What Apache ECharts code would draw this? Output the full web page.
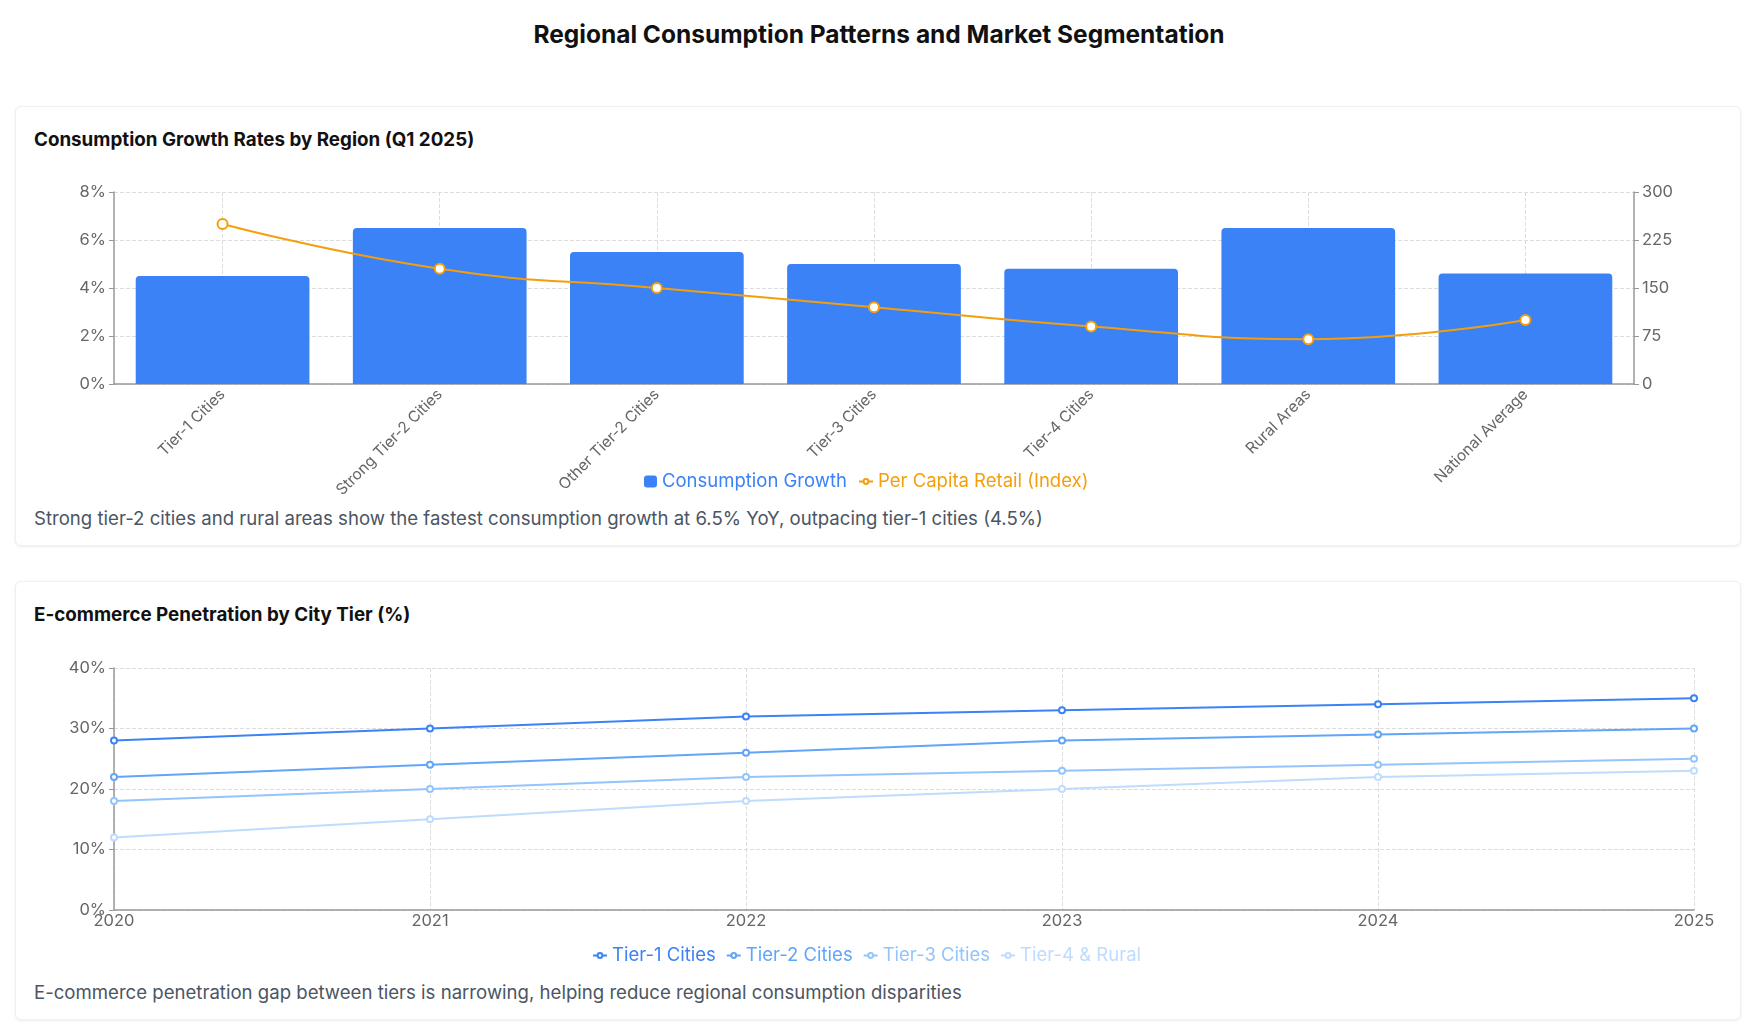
<!DOCTYPE html>
<html>
<head>
<meta charset="utf-8">
<title>Regional Consumption Patterns and Market Segmentation</title>
<script src="https://cdn.jsdelivr.net/npm/echarts@6/dist/echarts.min.js"></script>
<style>
  body {
    margin: 0;
    background: #fff;
    font-family: Inter, "Noto Sans", sans-serif;
  }
  .page-title {
    position: absolute;
    left: 0;
    top: 20px;
    width: 1758px;
    text-align: center;
    font-size: 24.5px;
    font-weight: bold;
    color: #111;
    line-height: 28px;
  }
  .card {
    position: absolute;
    left: 15px;
    width: 1724px;
    background: #fff;
    border: 1px solid #f0f0f0;
    border-radius: 6px;
    box-shadow: 0 1px 3px rgba(0, 0, 0, 0.08);
  }
  .card-title {
    position: absolute;
    left: 18px;
    top: 22px;
    font-size: 18.8px;
    font-weight: bold;
    color: #111;
    line-height: 22px;
  }
  .chart {
    position: absolute;
    left: 0;
    top: 49px;
    width: 1724px;
    height: 340px;
  }
  .desc {
    position: absolute;
    left: 18px;
    top: 399px;
    font-size: 18.6px;
    color: #4b5563;
    line-height: 24px;
  }
</style>
</head>
<body>
<div class="page-title">Regional Consumption Patterns and Market Segmentation</div>

<div class="card" style="top: 106px; height: 438px;">
  <div class="card-title">Consumption Growth Rates by Region (Q1 2025)</div>
  <div id="growthChart" class="chart"></div>
  <div class="desc">Strong tier-2 cities and rural areas show the fastest consumption growth at 6.5% YoY, outpacing tier-1 cities (4.5%)</div>
</div>

<div class="card" style="top: 581px; height: 437px;">
  <div class="card-title">E-commerce Penetration by City Tier (%)</div>
  <div id="ecomChart" class="chart"></div>
  <div class="desc" style="top: 398px;">E-commerce penetration gap between tiers is narrowing, helping reduce regional consumption disparities</div>
</div>

<script>
// chart 1 data
const regions = ['Tier-1 Cities', 'Strong Tier-2 Cities', 'Other Tier-2 Cities', 'Tier-3 Cities', 'Tier-4 Cities', 'Rural Areas', 'National Average']
const growthRate = [4.5, 6.5, 5.5, 5.0, 4.8, 6.5, 4.6]
const retailIndex = [250, 180, 150, 120, 90, 70, 100]

// chart 2 data
const years = ['2020', '2021', '2022', '2023', '2024', '2025']
const tier1 = [28, 30, 32, 33, 34, 35]
const tier2 = [22, 24, 26, 28, 29, 30]
const tier3 = [18, 20, 22, 23, 24, 25]
const tier4Rural = [12, 15, 18, 20, 22, 23]

const axisColor = '#999'
const labelColor = '#666'
const gridLine = { show: true, lineStyle: { type: 'dashed', color: '#ddd' } }

const growthChart = echarts.init(document.getElementById('growthChart'))
growthChart.setOption({
  textStyle: { fontFamily: 'Inter, "Noto Sans", sans-serif' },
  grid: { left: 98, right: 106, top: 36, bottom: 112, outerBoundsMode: 'none' },
  // two legends so the bar and line icons can have their own sizes
  legend: [
    {
      top: 311,
      left: 623,
      itemWidth: 13,
      itemHeight: 12,
      textStyle: { fontSize: 18.5, color: '#3b82f6' },
      data: ['Consumption Growth']
    },
    {
      top: 311,
      left: 837,
      itemWidth: 14,
      itemHeight: 6,
      textStyle: { fontSize: 18.5, color: '#f59e0b' },
      data: ['Per Capita Retail (Index)']
    }
  ],
  xAxis: {
    type: 'category',
    data: regions,
    axisLine: { lineStyle: { color: axisColor, width: 1.5 } },
    axisTick: { alignWithLabel: true, lineStyle: { color: axisColor } },
    axisLabel: { rotate: 45, fontSize: 15.5, color: labelColor, margin: 8 },
    splitLine: { show: true, alignWithLabel: true, lineStyle: { type: 'dashed', color: '#ddd' } }
  },
  yAxis: [
    {
      type: 'value',
      min: 0,
      max: 8,
      interval: 2,
      axisLine: { show: true, lineStyle: { color: axisColor, width: 1.5 } },
      axisTick: { show: true, lineStyle: { color: axisColor } },
      axisLabel: { formatter: '{value}%', fontSize: 16.5, color: labelColor },
      splitLine: gridLine
    },
    {
      type: 'value',
      min: 0,
      max: 300,
      interval: 75,
      axisLine: { show: true, lineStyle: { color: axisColor, width: 1.5 } },
      axisTick: { show: true, lineStyle: { color: axisColor } },
      axisLabel: { fontSize: 16.5, color: labelColor },
      splitLine: { show: false }
    }
  ],
  series: [
    {
      name: 'Consumption Growth',
      type: 'bar',
      data: growthRate,
      barCategoryGap: '20%',
      itemStyle: { color: '#3b82f6', borderRadius: [4, 4, 0, 0] }
    },
    {
      name: 'Per Capita Retail (Index)',
      type: 'line',
      yAxisIndex: 1,
      smooth: true,
      data: retailIndex,
      symbol: 'emptyCircle',
      symbolSize: 10,
      lineStyle: { color: '#f59e0b', width: 2 },
      itemStyle: { color: '#f59e0b', borderWidth: 2 }
    }
  ]
})

const tierColors = ['#3b82f6', '#60a5fa', '#93c5fd', '#bfdbfe']
const tierNames = ['Tier-1 Cities', 'Tier-2 Cities', 'Tier-3 Cities', 'Tier-4 & Rural']
const tierData = [tier1, tier2, tier3, tier4Rural]

const ecomChart = echarts.init(document.getElementById('ecomChart'))
ecomChart.setOption({
  textStyle: { fontFamily: 'Inter, "Noto Sans", sans-serif' },
  grid: { left: 98, right: 46, top: 37, bottom: 61, outerBoundsMode: 'none' },
  legend: {
    top: 310,
    left: 571,
    itemWidth: 14,
    itemHeight: 6,
    itemGap: 10,
    textStyle: { fontSize: 18.5 },
    data: tierNames.map((name, i) => {
      return { name: name, textStyle: { color: tierColors[i] } }
    })
  },
  xAxis: {
    type: 'category',
    boundaryGap: false,
    data: years,
    axisLine: { lineStyle: { color: axisColor, width: 1.5 } },
    axisTick: { show: false },
    axisLabel: { fontSize: 16.5, color: labelColor, margin: 3 },
    splitLine: gridLine
  },
  yAxis: {
    type: 'value',
    min: 0,
    max: 40,
    interval: 10,
    axisLine: { show: true, lineStyle: { color: axisColor, width: 1.5 } },
    axisTick: { show: true, lineStyle: { color: axisColor } },
    axisLabel: { formatter: '{value}%', fontSize: 16.5, color: labelColor },
    splitLine: gridLine
  },
  series: tierData.map((d, i) => {
    return {
      name: tierNames[i],
      type: 'line',
      data: d,
      symbol: 'emptyCircle',
      symbolSize: 6,
      lineStyle: { color: tierColors[i], width: 2 },
      itemStyle: { color: tierColors[i], borderWidth: 2 }
    }
  })
})
</script>
</body>
</html>
